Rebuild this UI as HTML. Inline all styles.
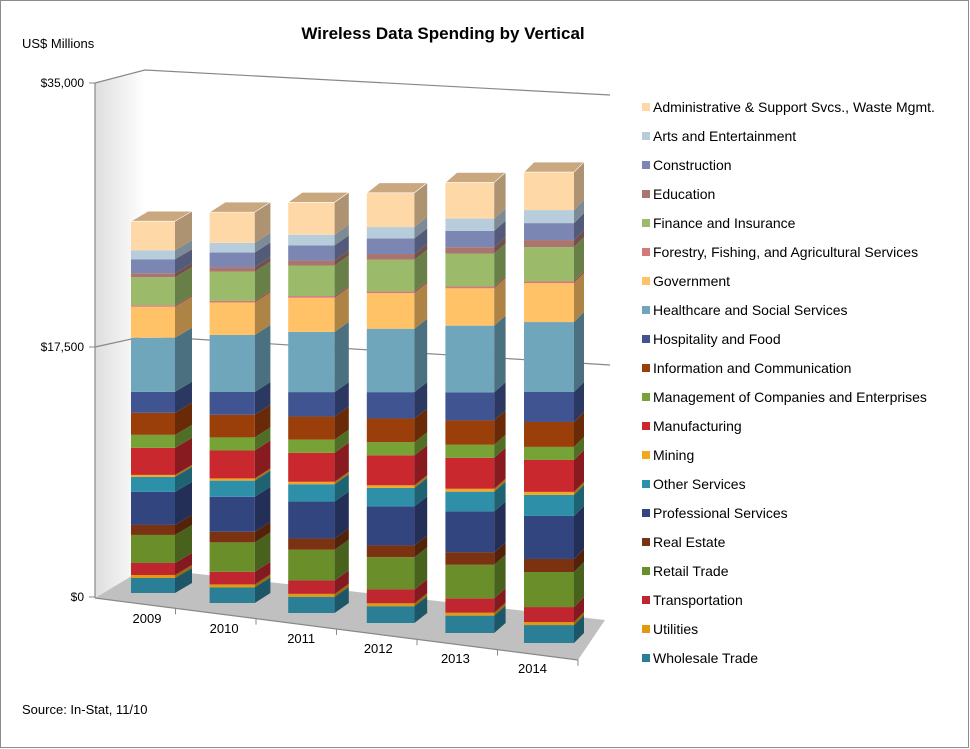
<!DOCTYPE html>
<html><head><meta charset="utf-8"><style>
body{margin:0;background:#fff}
svg{display:block;font-family:"Liberation Sans",Arial,sans-serif}
</style></head><body>
<svg id="chart" width="970" height="749" viewBox="0 0 970 749" xmlns="http://www.w3.org/2000/svg">
<defs>
<linearGradient id="wallg" x1="0" y1="0" x2="1" y2="0"><stop offset="0" stop-color="#c8c8c8"/><stop offset="1" stop-color="#ffffff"/></linearGradient>
</defs>
<rect x="0.5" y="0.5" width="968" height="747" fill="#fff" stroke="#8c8c8c"/>
<text x="443" y="39" font-size="17" font-weight="bold" text-anchor="middle" fill="#000">Wireless Data Spending by Vertical</text>
<text x="22" y="48" font-size="13" fill="#000">US$ Millions</text>
<text x="22" y="714" font-size="13" fill="#000">Source: In-Stat, 11/10</text>
<polygon points="95,83 145,70 145,568 95,598" fill="url(#wallg)" opacity="0.6"/>
<polygon points="95,598 145,568 605,620 578,660" fill="#c0c0c0"/>
<polyline points="95,83 145,70 610,95" fill="none" stroke="#888" stroke-width="1.2"/>
<line x1="95" y1="83" x2="95" y2="598" stroke="#888" stroke-width="1.2"/>
<polyline points="95,347 145,336 610,365" fill="none" stroke="#888" stroke-width="1.2"/>
<line x1="95" y1="598" x2="578" y2="660" stroke="#888" stroke-width="1.2"/>
<g id="ticks"></g>
<g id="bars"></g>
<g id="legend"></g>
</svg>
<script>
var categories = ["2009","2010","2011","2012","2013","2014"];
var seriesNames = ["Wholesale Trade","Utilities","Transportation","Retail Trade","Real Estate","Professional Services","Other Services","Mining","Manufacturing","Management of Companies and Enterprises","Information and Communication","Hospitality and Food","Healthcare and Social Services","Government","Forestry, Fishing, and Agricultural Services","Finance and Insurance","Education","Construction","Arts and Entertainment","Administrative & Support Svcs., Waste Mgmt."];
var wholesale   = [1050,1060,1070,1080,1090,1100];
var utilities   = [210,205,200,195,190,185];
var transport   = [840,860,880,890,900,920];
var retail      = [1960,2000,2040,2080,2110,2150];
var realEstate  = [700,720,740,760,780,800];
var professional= [2310,2380,2450,2520,2580,2640];
var otherSvcs   = [1050,1100,1150,1190,1240,1290];
var mining      = [140,150,160,170,180,185];
var manufacturing=[1890,1900,1920,1930,1950,1960];
var management  = [910,890,870,850,820,800];
var information = [1540,1540,1530,1530,1530,1530];
var hospitality = [1470,1550,1620,1700,1770,1840];
var healthcare  = [3780,3880,3990,4090,4190,4290];
var government  = [2170,2210,2260,2300,2350,2390];
var forestry    = [100,105,110,110,115,120];
var finance     = [1960,1990,2020,2040,2070,2090];
var education   = [280,310,340,370,400,430];
var construction= [980,990,1000,1010,1030,1040];
var arts        = [630,660,700,730,770,800];
var admin       = [2030,2090,2150,2210,2270,2330];
var series = [wholesale,utilities,transport,retail,realEstate,professional,otherSvcs,mining,manufacturing,management,information,hospitality,healthcare,government,forestry,finance,education,construction,arts,admin];
var yTickLabels = ["$0","$17,500","$35,000"];
var yTickValues = [0,17500,35000];

var colors = ["#2A7E96","#E09A10","#C02630","#6A8E2A","#7A3210","#33457E","#2E90A8","#F0A820","#C8282E","#76A236","#9A3F0A","#3F5490","#6FA6BC","#FFC266","#D27A7A","#9BBB6A","#A9756E","#7B86B3","#B7CDDB","#FFD8A8"];
var NS="http://www.w3.org/2000/svg";
function mk(tag,attrs,parent){var e=document.createElementNS(NS,tag);for(var k in attrs)e.setAttribute(k,attrs[k]);parent.appendChild(e);return e;}
function shade(hex,f){var n=parseInt(hex.slice(1),16);var r=n>>16,g=(n>>8)&255,b=n&255;r=Math.round(r*f);g=Math.round(g*f);b=Math.round(b*f);return "rgb("+r+","+g+","+b+")";}
function barX(i){return 131+i*78.6;}
function barW(i){return 44+i*1.2;}
function barBase(i){return 593+i*10;}
function barDx(i){return 17-i*1.4;}
function barScale(i){return 0.0143+i*0.0004;}
function yLeft(v){
  if(v<=17500) return 597-(v/17500)*250; return 347-((v-17500)/17500)*264;}
var ticksG=document.getElementById('ticks');
for(var t=0;t<yTickValues.length;t++){
  var yy=yLeft(yTickValues[t]);
  var tl=mk('line',{x1:89,y1:yy,x2:95,y2:yy,stroke:'#888'},ticksG);
  
  
  var tx=mk('text',{x:84,y:yy+4,'font-size':12,'text-anchor':'end',fill:'#000'},ticksG);
  tx.textContent=yTickLabels[t];
  
  
}
var barsG=document.getElementById('bars');
for(var i=0;i<categories.length;i++){
  var g=mk('g',{},barsG);
  
  
  var bx=barX(i),bw=barW(i),bdx=barDx(i),bdy=10,bs=barScale(i);
  var cy=barBase(i);
  for(var j=0;j<series.length;j++){
    var h=series[j][i]*bs;
    var yt=cy-h;
    var r=mk('rect',{x:bx,y:yt,width:bw,height:h,fill:colors[j]},g);
    
    
    var p=mk('polygon',{points:(bx+bw)+','+cy+' '+(bx+bw+bdx)+','+(cy-bdy)+' '+(bx+bw+bdx)+','+(yt-bdy)+' '+(bx+bw)+','+yt,fill:shade(colors[j],0.68)},g);
    
    
    cy=yt;
  }
  var topFace=mk('polygon',{points:bx+','+cy+' '+(bx+bw)+','+cy+' '+(bx+bw+bdx)+','+(cy-bdy)+' '+(bx+bdx)+','+(cy-bdy),fill:'#C9A77F',stroke:'#fff','stroke-width':0.6},g);
  
  
  var lab=mk('text',{x:bx+16-i*1.5,y:623+i*10,'font-size':13,'text-anchor':'middle',fill:'#000'},barsG);
  lab.textContent=categories[i];
  
  
  var tk=mk('line',{x1:95+(i+1)*80.5,y1:598+(i+1)*10.3,x2:95+(i+1)*80.5,y2:604+(i+1)*10.3,stroke:'#888'},barsG);
  
  
}
var legendG=document.getElementById('legend');
for(var k=0;k<seriesNames.length;k++){
  var idx=seriesNames.length-1-k;
  var ly=107+k*29;
  var lg=mk('g',{},legendG);
  
  
  mk('rect',{x:642,y:ly-4,width:8,height:8,fill:colors[idx]},lg);
  var lt=mk('text',{x:653,y:ly+5,'font-size':14,fill:'#000'},lg);
  lt.textContent=seriesNames[idx];
}
</script>
</body></html>
